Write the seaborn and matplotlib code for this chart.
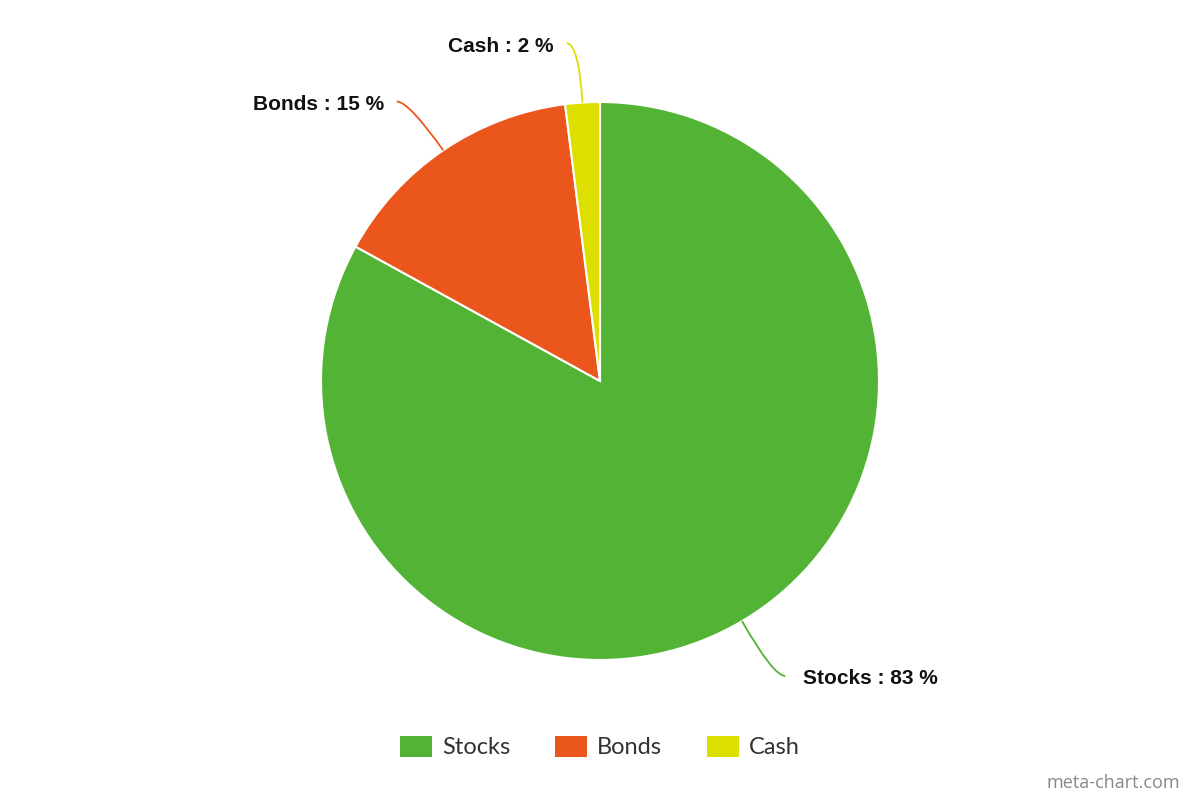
import numpy as np
import matplotlib
matplotlib.use("Agg")
import matplotlib.pyplot as plt
from matplotlib.path import Path
from matplotlib.patches import PathPatch, Patch
import seaborn as sns

labels = ["Stocks", "Bonds", "Cash"]
values = [83, 15, 2]
colors = ["#52b334", "#eb561c", "#dddf00"]

sns.set_theme(style="white")
plt.rcParams["font.family"] = ["Liberation Sans", "DejaVu Sans"]

fig = plt.figure(figsize=(12, 8), dpi=100)
ax = fig.add_axes([0, 0, 1, 1])

cx, cy, R = 600, 419, 279
wedges, _ = ax.pie(values, colors=colors, startangle=90, counterclock=False,
                   center=(cx, cy), radius=R, frame=True,
                   wedgeprops=dict(edgecolor="white", linewidth=1.5))
ax.set_xlim(0, 1200)
ax.set_ylim(0, 800)
ax.axis("off")

# leader lines + labels
total = sum(values)
start = 90.0
for lab, v, col in zip(labels, values, colors):
    sweep = v / total * 360
    mid = np.radians(start - sweep / 2)
    start -= sweep
    p0 = (cx + R * np.cos(mid), cy + R * np.sin(mid))
    p1 = (cx + 1.22 * R * np.cos(mid), cy + 1.22 * R * np.sin(mid) - 2)
    side = 1 if np.cos(mid) >= 0 else -1
    p2 = (p1[0] + side * 12, p1[1])
    path = Path([p0, p1, p2], [Path.MOVETO, Path.CURVE3, Path.CURVE3])
    ax.add_patch(PathPatch(path, fc="none", ec=col, lw=1.3))
    gap = 18 if side > 0 else 13
    ax.text(p2[0] + side * gap, p2[1] - 3, f"{lab} : {v} %",
            ha="left" if side > 0 else "right", va="center",
            fontsize=15, fontweight="bold", color="#111111")

handles = [Patch(facecolor=c, edgecolor="none") for c in colors]
ax.legend(handles, labels, loc="center", bbox_to_anchor=(0.5, 53 / 800),
          ncol=3, frameon=False, handlelength=1.36,
          handleheight=1.0, handletextpad=0.42, columnspacing=1.9,
          prop={"family": ["Lato", "DejaVu Sans"], "size": 17},
          labelcolor="#333333")

fig.text(1180 / 1200, 1 - 783 / 800, "meta-chart.com", ha="right", va="center",
         fontsize=13, color="#888888", family=["Open Sans", "DejaVu Sans"])

fig.savefig("out.png", dpi=100, facecolor="white")
